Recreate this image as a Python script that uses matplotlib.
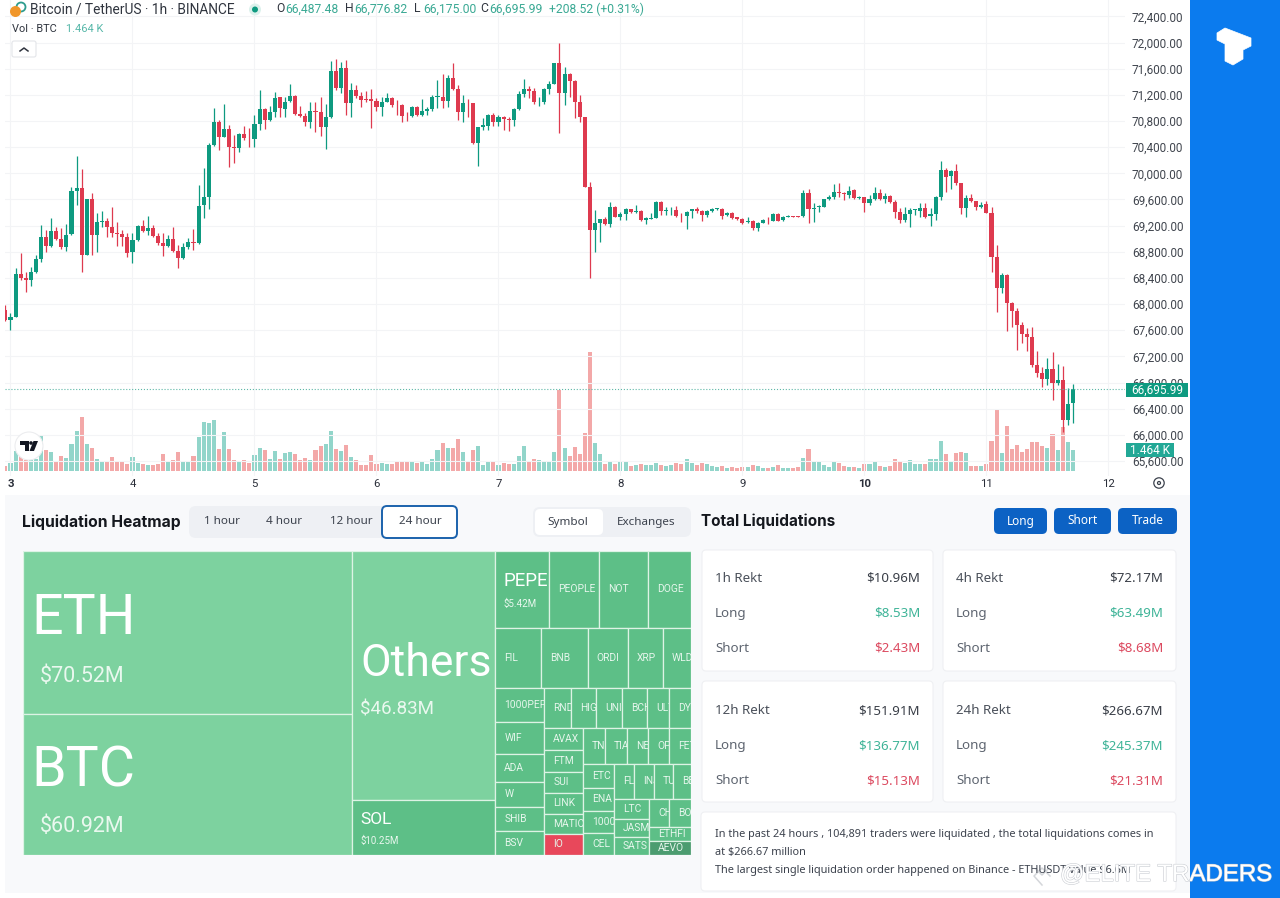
"""
BTC/USDT 1h candles with volume, and a liquidation heatmap panel below
"""
import numpy as np
import matplotlib
matplotlib.use('Agg')
import matplotlib.pyplot as plt
import matplotlib.patheffects as pe
from matplotlib.patches import Circle, FancyBboxPatch, Polygon, Rectangle

W, H_PX = 1280, 898

# hourly candles, first one is the last hour of the 2nd
opens = [67910, 67755, 67805, 68455, 68400, 68370, 68495, 68685, 69025, 68890,
         69125, 69000, 68880, 69065, 69735, 69775, 68750, 69600, 69055, 69250,
         69275, 69185, 69085, 69065, 69030, 68795, 68980, 69200, 69125, 69160,
         69045, 68940, 68890, 69000, 68815, 68700, 68875, 68945, 68930, 69515,
         69640, 70435, 70790, 70550, 70675, 70410, 70385, 70600, 70545, 70530,
         70755, 70980, 70815, 70940, 71165, 70990, 71105, 71180, 70910, 70875,
         70785, 70955, 70935, 70715, 70855, 71565, 71300, 71615, 71080, 71270,
         71185, 71135, 71130, 71105, 71010, 71095, 71155, 71050, 71040, 70885,
         70870, 71010, 70890, 70960, 70980, 71165, 71175, 71110, 71455, 71290,
         70940, 71080, 71070, 70460, 70705, 70725, 70890, 70785, 70865, 70825,
         70815, 70980, 71215, 71285, 71265, 71085, 71095, 71285, 71365, 71685,
         71225, 71520, 71420, 71095, 70855, 69795, 69135, 69235, 69295, 69225,
         69490, 69335, 69380, 69450, 69410, 69425, 69290, 69305, 69315, 69565,
         69430, 69435, 69440, 69355, 69345, 69430, 69455, 69425, 69370, 69430,
         69450, 69450, 69370, 69395, 69325, 69300, 69260, 69270, 69160, 69245,
         69305, 69275, 69385, 69285, 69335, 69350, 69345, 69345, 69695, 69455,
         69480, 69490, 69605, 69645, 69715, 69705, 69670, 69745, 69625, 69635,
         69540, 69605, 69705, 69605, 69655, 69565, 69415, 69285, 69375, 69435,
         69430, 69465, 69345, 69385, 69645, 70050, 69960, 70035, 69845, 69475,
         69620, 69575, 69480, 69530, 69400, 68715, 68250, 68445, 68010, 67895,
         67675, 67550, 67495, 67070, 66950, 66860, 67000, 66790, 66835, 66225,
         66487.48]
closes = [67755, 67800, 68460, 68395, 68370, 68490, 68685, 69025, 68890, 69125,
          69000, 68880, 69060, 69735, 69770, 68750, 69600, 69055, 69250, 69270,
          69185, 69085, 69065, 69030, 68785, 68980, 69200, 69125, 69160, 69045,
          68940, 68890, 69000, 68815, 68700, 68875, 68945, 68930, 69505, 69635,
          70435, 70790, 70550, 70675, 70410, 70390, 70600, 70535, 70535, 70755,
          70980, 70815, 70945, 71155, 70995, 71095, 71180, 70910, 70875, 70780,
          70955, 70935, 70715, 70855, 71565, 71300, 71615, 71080, 71270, 71185,
          71120, 71120, 71105, 71010, 71095, 71155, 71040, 71040, 70880, 70875,
          71010, 70890, 70960, 70980, 71165, 71180, 71105, 71455, 71290, 70940,
          71080, 71070, 70460, 70705, 70735, 70890, 70785, 70865, 70825, 70815,
          70980, 71215, 71285, 71265, 71085, 71095, 71285, 71365, 71685, 71225,
          71520, 71420, 71095, 70855, 69795, 69135, 69245, 69295, 69225, 69490,
          69335, 69380, 69455, 69410, 69425, 69285, 69320, 69320, 69565, 69430,
          69445, 69445, 69345, 69345, 69415, 69450, 69420, 69370, 69430, 69455,
          69465, 69355, 69395, 69315, 69300, 69245, 69270, 69160, 69245, 69285,
          69295, 69375, 69275, 69335, 69350, 69335, 69330, 69695, 69460, 69470,
          69500, 69605, 69645, 69720, 69705, 69690, 69735, 69630, 69635, 69550,
          69605, 69705, 69605, 69655, 69565, 69415, 69285, 69375, 69440, 69450,
          69465, 69335, 69385, 69645, 70050, 69950, 70035, 69845, 69475, 69620,
          69580, 69480, 69520, 69400, 68715, 68250, 68445, 68010, 67895, 67675,
          67550, 67500, 67070, 66950, 66860, 67000, 66795, 66835, 66225, 66465,
          66695.99]
highs = [67985, 67860, 68545, 68775, 68495, 68570, 68750, 69210, 69135, 69310,
         69185, 69160, 69225, 69795, 70270, 70060, 69600, 69705, 69390, 69430,
         69310, 69490, 69260, 69135, 69080, 69080, 69210, 69285, 69345, 69210,
         69080, 69080, 69055, 69185, 68905, 68930, 69005, 69145, 69820, 70075,
         70460, 70995, 70815, 71055, 70740, 70585, 70610, 70725, 70690, 70895,
         71275, 70995, 71030, 71250, 71175, 71175, 71365, 71200, 71030, 70920,
         71095, 71095, 71165, 71060, 71725, 71745, 71710, 71735, 71375, 71350,
         71250, 71265, 71285, 71150, 71175, 71225, 71175, 71120, 71060, 70945,
         71030, 71030, 71130, 71020, 71200, 71430, 71520, 71505, 71695, 71350,
         71200, 71130, 71075, 70715, 70840, 70905, 70930, 70890, 70875, 70865,
         70995, 71265, 71440, 71335, 71300, 71165, 71300, 71420, 71690, 71990,
         71630, 71530, 71430, 71200, 70865, 69870, 69440, 69300, 69335, 69565,
         69500, 69415, 69465, 69460, 69515, 69440, 69330, 69390, 69570, 69575,
         69480, 69480, 69500, 69400, 69425, 69460, 69480, 69440, 69440, 69465,
         69475, 69465, 69405, 69405, 69335, 69310, 69335, 69285, 69260, 69295,
         69335, 69390, 69400, 69345, 69360, 69355, 69355, 69745, 69755, 69540,
         69515, 69615, 69670, 69835, 69845, 69720, 69810, 69755, 69655, 69645,
         69670, 69785, 69755, 69695, 69670, 69590, 69465, 69490, 69465, 69460,
         69540, 69540, 69465, 69655, 70195, 70075, 70050, 70145, 69855, 69670,
         69685, 69580, 69565, 69580, 69480, 68905, 68480, 68460, 68025, 67945,
         67730, 67630, 67645, 67285, 67040, 67170, 67265, 67085, 67060, 66710,
         66776.82]
lows = [67745, 67600, 67795, 68370, 68190, 68275, 68480, 68650, 68800, 68880,
        68980, 68850, 68815, 69055, 69515, 68495, 68750, 68750, 68790, 69185,
        69020, 69020, 68890, 68890, 68725, 68625, 68970, 69110, 69055, 69030,
        68905, 68735, 68880, 68800, 68545, 68690, 68850, 68825, 68925, 69310,
        69455, 70425, 70355, 70550, 70090, 70155, 70330, 70510, 70410, 70410,
        70665, 70675, 70805, 70865, 70865, 70855, 71090, 70895, 70865, 70725,
        70690, 70635, 70575, 70370, 70840, 71275, 71225, 70895, 70865, 71150,
        71020, 71095, 70700, 70960, 70875, 71095, 71020, 70895, 70790, 70800,
        70855, 70875, 70875, 70895, 70960, 70995, 70995, 71010, 71275, 70815,
        70790, 70865, 70455, 70110, 70665, 70665, 70725, 70725, 70665, 70655,
        70725, 70970, 71165, 71150, 71060, 71030, 71060, 71215, 71360, 70620,
        71045, 71175, 70840, 70790, 69785, 68395, 68800, 68955, 69210, 69185,
        69325, 69285, 69285, 69390, 69400, 69275, 69225, 69295, 69310, 69360,
        69360, 69360, 69325, 69255, 69155, 69310, 69400, 69275, 69325, 69415,
        69440, 69300, 69355, 69305, 69285, 69225, 69235, 69135, 69115, 69235,
        69225, 69265, 69265, 69275, 69330, 69330, 69325, 69335, 69235, 69260,
        69415, 69480, 69590, 69600, 69645, 69590, 69620, 69610, 69600, 69415,
        69515, 69590, 69590, 69540, 69540, 69310, 69245, 69260, 69175, 69365,
        69335, 69310, 69195, 69285, 69590, 69720, 69755, 69820, 69380, 69325,
        69565, 69440, 69465, 69390, 68495, 67885, 68165, 67595, 67645, 67300,
        67400, 67285, 67040, 66890, 66725, 66760, 66540, 66760, 66050, 66150,
        66175]
# volume in thousand BTC
volumes = [0.31, 0.54, 1.37, 1.01, 0.78, 0.83, 0.83, 2.55, 1.49, 1.30,
           0.71, 1.06, 0.90, 1.91, 2.81, 3.84, 1.89, 1.63, 0.83, 0.71,
           0.71, 0.97, 0.59, 0.61, 0.50, 0.94, 0.54, 0.47, 0.42, 0.40,
           0.50, 1.20, 0.59, 0.78, 1.30, 0.68, 0.59, 1.01, 2.36, 3.44,
           3.37, 3.61, 1.53, 2.74, 1.53, 0.73, 0.59, 0.78, 0.54, 1.08,
           1.60, 1.44, 0.83, 1.42, 0.85, 1.25, 1.32, 1.16, 0.78, 0.90,
           0.78, 1.44, 1.72, 1.89, 2.81, 1.56, 1.42, 1.82, 0.97, 0.73,
           0.42, 0.42, 1.08, 0.50, 0.54, 0.50, 0.47, 0.59, 0.71, 0.64,
           0.64, 0.54, 0.64, 0.50, 0.83, 1.44, 1.96, 1.60, 1.60, 2.24,
           1.32, 0.61, 1.49, 1.72, 0.42, 0.68, 0.64, 0.40, 0.52, 0.50,
           0.50, 1.06, 1.72, 0.64, 0.85, 0.78, 0.64, 0.61, 1.30, 5.71,
           1.60, 1.01, 1.70, 1.16, 2.67, 8.40, 1.96, 1.16, 0.50, 0.64,
           0.50, 0.59, 0.59, 0.33, 0.40, 0.45, 0.40, 0.42, 0.57, 0.42,
           0.35, 0.40, 0.57, 0.50, 0.80, 0.57, 0.38, 0.57, 0.45, 0.31,
           0.28, 0.33, 0.19, 0.26, 0.21, 0.28, 0.28, 0.38, 0.33, 0.21,
           0.21, 0.28, 0.38, 0.19, 0.17, 0.21, 0.24, 0.87, 1.53, 0.64,
           0.71, 0.40, 0.28, 0.71, 0.57, 0.33, 0.24, 0.28, 0.17, 0.45,
           0.47, 0.71, 0.35, 0.28, 0.33, 0.80, 0.71, 0.57, 0.75, 0.47,
           0.47, 0.47, 0.83, 0.80, 2.10, 1.16, 0.64, 1.23, 1.34, 1.27,
           0.35, 0.35, 0.35, 0.45, 2.12, 4.29, 1.27, 3.16, 1.51, 1.82,
           1.34, 1.51, 2.05, 2.03, 1.77, 1.63, 2.57, 1.46, 3.07, 2.05,
           1.464]
price_ticks = list(range(65600, 72401, 400))
day_ticks = [3, 4, 5, 6, 7, 8, 9, 10, 11, 12]
bold_days = [3, 10]
last_price = 66695.99

# heatmap, $M. the big ones are printed, small ones read from their areas
major_names = ['ETH', 'BTC', 'Others', 'SOL']
major_values = [70.52, 60.92, 46.83, 10.25]
row_a_names = ['PEPE', 'PEOPLE', 'NOT', 'DOGE']
row_a_values = [5.42, 5.15, 4.95, 4.34]
row_b_names = ['FIL', 'BNB', 'ORDI', 'XRP', 'WLD']
row_b_values = [3.62, 3.62, 3.15, 2.75, 2.20]
col_c_names = ['1000PEPE', 'WIF', 'ADA', 'W', 'SHIB', 'BSV']
col_c_values = [2.18, 2.05, 1.80, 1.61, 1.54, 1.54]
row_d_names = ['RNDR', 'HIGH', 'UNI', 'BCH', 'ULTI', 'DYDX']
row_d_values = [1.41, 1.31, 1.36, 1.31, 1.15, 1.15]
col_e_names = ['AVAX', 'FTM', 'SUI', 'LINK', 'MATIC', 'IO']
col_e_values = [1.12, 1.12, 1.07, 1.07, 1.02, 1.07]
row_f_names = ['TNSR', 'TIA', 'NEAR', 'OP', 'FET']
row_f_values = [1.04, 1.04, 0.99, 0.99, 1.04]
col_g_names = ['ETC', 'ENA', '1000SATS', 'CEL']
col_g_values = [0.97, 0.93, 0.89, 0.89]
row_h_names = ['FLOKI', 'INJ', 'TURBO', 'BEAM']
row_h_values = [0.92, 0.92, 0.87, 0.83]
col_i_names = ['LTC', 'JASMY', 'SATS']
col_i_values = [0.92, 0.83, 0.83]
row_j_names = ['CHZ', 'BOME']
row_j_values = [0.73, 0.81]
col_k_names = ['ETHFI', 'AEVO']
col_k_values = [0.77, 0.77]

card_titles = ['1h Rekt', '4h Rekt', '12h Rekt', '24h Rekt']
card_totals = ['$10.96M', '$72.17M', '$151.91M', '$266.67M']
card_longs = ['$8.53M', '$63.49M', '$136.77M', '$245.37M']
card_shorts = ['$2.43M', '$8.68M', '$15.13M', '$21.31M']

UP, DOWN = '#0E9A80', '#DE3A4F'
UP_VOL, DOWN_VOL = '#92D5CA', '#F3A8A8'
MAP_LIGHT, MAP_MID = '#7DD29F', '#5DBF87'
TEXT_DARK, TEXT_GREY = '#3C424D', '#5E6570'
SANS = 'Roboto'
UI = 'Noto Sans'

plt.rcParams['font.family'] = SANS
fig = plt.figure(figsize=(W / 100, H_PX / 100), dpi=100)


def px_axes(x0, y0, x1, y1, zorder):
    return fig.add_axes([x0 / W, 1 - y1 / H_PX, (x1 - x0) / W, (y1 - y0) / H_PX],
                        zorder=zorder)


def page_axes(zorder):
    ax = px_axes(0, 0, W, H_PX, zorder)
    ax.set_xlim(0, W)
    ax.set_ylim(H_PX, 0)
    ax.axis('off')
    return ax


def rbox(ax, x0, y0, x1, y1, r, fc, ec='none', lw=0.0, **kw):
    ax.add_patch(FancyBboxPatch((x0, y0), x1 - x0, y1 - y0, linewidth=lw,
                                boxstyle=f'round,pad=0,rounding_size={r}',
                                facecolor=fc, edgecolor=ec, **kw))


def label(ax, x, y, s, size, color=TEXT_DARK, ha='left', weight='normal', family=UI, **kw):
    return ax.text(x, y, s, fontsize=size, color=color, ha=ha, va='center',
                   fontweight=weight, family=family, **kw)


ax_bg = page_axes(0)
ax_bg.add_patch(Rectangle((5, 495), 1185, 398, fc='#F8F9FB', ec='none'))

# ---- candles and volume
x_hour = np.arange(-1, len(opens) - 1)
o, h, l, c = map(np.array, (opens, highs, lows, closes))
rising = c >= o

ax_price = px_axes(5, 0, 1125, 476, 2)
ax_vol = ax_price.twinx()
ax_vol.set_zorder(1)
ax_vol.set_facecolor('white')
ax_price.patch.set_visible(False)

ax_vol.bar(x_hour, volumes, width=0.8, color=np.where(rising, UP_VOL, DOWN_VOL))
ax_vol.set_ylim(-0.376, 33.38)
ax_vol.set_yticks([])

ax_price.vlines(x_hour, l, h, colors=np.where(rising, UP, DOWN), linewidth=0.9)
ax_price.bar(x_hour, np.abs(c - o), bottom=np.minimum(o, c), width=0.8,
             color=np.where(rising, UP, DOWN))
ax_price.axhline(last_price, color='#5FB8A8', linestyle=':', linewidth=0.8)

ax_price.set_xlim(-1.082, 219.26)
ax_price.set_ylim(65370, 72652)
ax_price.yaxis.tick_right()
ax_price.set_yticks(price_ticks)
ax_price.set_yticklabels([f'{v:,.2f}' for v in price_ticks])
ax_price.set_xticks([(d - 3) * 24 for d in day_ticks])
ax_price.set_xticklabels([str(d) for d in day_ticks])
ax_price.tick_params(axis='y', length=0, pad=5, labelsize=8.5, labelcolor='#41464F')
ax_price.tick_params(axis='x', length=0, pad=2, labelsize=8.2, labelcolor='#2A2E39')
for tick, d in zip(ax_price.get_xticklabels(), day_ticks):
    if d in bold_days:
        tick.set_fontweight('bold')
ax_price.grid(True, color='#F3F4F6', linewidth=0.8)
ax_price.set_axisbelow(True)
for ax in (ax_price, ax_vol):
    for s in ax.spines.values():
        s.set_visible(False)

# ---- treemap, nested slices so that area follows the values
map_values = dict(zip(major_names + row_a_names + row_b_names + col_c_names + row_d_names
                      + col_e_names + row_f_names + col_g_names + row_h_names + col_i_names
                      + row_j_names + col_k_names,
                      major_values + row_a_values + row_b_values + col_c_values + row_d_values
                      + col_e_values + row_f_values + col_g_values + row_h_values + col_i_values
                      + row_j_values + col_k_values))


def across(names):
    return ('h', list(names))


def down(names):
    return ('v', list(names))


map_tree = across([
    down(['ETH', 'BTC']),
    down(['Others', 'SOL']),
    down([across(row_a_names), across(row_b_names), across([
        down(col_c_names),
        down([across(row_d_names), across([
            down(col_e_names),
            down([across(row_f_names), across([
                down(col_g_names),
                down([across(row_h_names), across([
                    down(col_i_names),
                    down([across(row_j_names), down(col_k_names)]),
                ])]),
            ])]),
        ])]),
    ])]),
])


def node_total(node):
    if isinstance(node, str):
        return map_values[node]
    return sum(node_total(n) for n in node[1])


def layout(node, x0, y0, x1, y1, out):
    if isinstance(node, str):
        out[node] = (x0, y0, x1, y1)
        return
    total = node_total(node)
    pos = x0 if node[0] == 'h' else y0
    for child in node[1]:
        share = node_total(child) / total
        if node[0] == 'h':
            step = (x1 - x0) * share
            layout(child, pos, y0, pos + step, y1, out)
        else:
            step = (y1 - y0) * share
            layout(child, x0, pos, x1, pos + step, out)
        pos += step


MX0, MY0, MX1, MY1 = 22.5, 550.5, 691, 855
ax_map = px_axes(MX0, MY0, MX1, MY1, 3)
ax_map.set_xlim(MX0, MX1)
ax_map.set_ylim(MY1, MY0)
ax_map.axis('off')

cells = {}
layout(map_tree, MX0, MY0, MX1, MY1, cells)
cell_colors = {'ETH': MAP_LIGHT, 'BTC': MAP_LIGHT, 'Others': MAP_LIGHT,
               'IO': '#E8485B', 'AEVO': '#4C9C70'}
# label x offset, label y, label size, value x offset, value y, value size
big_labels = {'ETH': (9, 618, 40, 17, 677, 15.5), 'BTC': (9, 771, 40, 17, 826, 15.5),
              'Others': (8, 664, 32, 8, 709, 13.5), 'SOL': (8, 820, 12.5, 8, 841, 7),
              'PEPE': (8, 581, 13.5, 8, 604, 7)}
for name, (x0, y0, x1, y1) in cells.items():
    rect = Rectangle((x0, y0), x1 - x0, y1 - y0, facecolor=cell_colors.get(name, MAP_MID),
                     edgecolor='#DDF3E5', linewidth=0.9)
    ax_map.add_patch(rect)
    if name in big_labels:
        dx, y_name, size, dx_val, y_val, size_val = big_labels[name]
        t = label(ax_map, x0 + dx, y_name, name, size, 'white', family=SANS, clip_on=True)
        t.set_clip_path(rect)
        label(ax_map, x0 + dx_val, y_val, f'${map_values[name]:.2f}M', size_val, '#EAF8EF', family=SANS)
    else:
        t = label(ax_map, x0 + 9, (y0 + y1) / 2, name, 7.4, '#E6F6EC', family=SANS, clip_on=True)
        t.set_clip_path(rect)

# ---- everything that sits on top of the chart
ax_top = page_axes(4)

ax_top.add_patch(Rectangle((1190, 0), 90, H_PX, fc='#0B7BEE', ec='none'))
ax_top.add_patch(Polygon([(1217, 33), (1225, 28), (1251, 38), (1251, 46), (1243, 50),
                          (1243, 59), (1233, 65), (1225, 61), (1225, 44), (1217, 40)],
                         fc='white', ec='white', lw=0.5))

# header legend
ax_top.add_patch(Circle((21, 7), 4.5, fc='none', ec='#2E9C8E', lw=1.3))
ax_top.add_patch(Circle((15.5, 11.5), 5.5, fc='#F0962A', ec='none'))
label(ax_top, 30, 9, 'Bitcoin / TetherUS · 1h · BINANCE', 9.9, '#30353F', family=SANS)
ax_top.add_patch(Circle((255, 9.5), 6, fc='#DCF1EC', ec='none'))
ax_top.add_patch(Circle((255, 9.5), 3, fc=UP, ec='none'))
ohlc_letters = ['O', 'H', 'L', 'C']
ohlc_text = ['66,487.48', '66,776.82', '66,175.00', '66,695.99']
ohlc_x = [276, 345, 414, 480]
for letter, val, xp in zip(ohlc_letters, ohlc_text, ohlc_x):
    label(ax_top, xp, 9, letter, 8.7, '#30353F', family=SANS)
    label(ax_top, xp + 9.5, 9, val, 8.7, '#3AA994', family=SANS)
label(ax_top, 549, 9, '+208.52 (+0.31%)', 8.7, '#3AA994', family=SANS)
label(ax_top, 12, 29, 'Vol · BTC', 7.9, '#30353F', family=SANS)
label(ax_top, 66, 29, '1.464 K', 7.9, '#55B7A8', family=SANS)
rbox(ax_top, 12, 41, 36, 57, 2, 'white', '#E3E5E9', 0.8)
ax_top.plot([20, 24, 28], [51, 48, 51], color='#30353F', lw=1.1)

# TradingView badge
ax_top.add_patch(Circle((29, 446), 14, fc='white', ec='#ECEDEF', lw=0.8))
ax_top.add_patch(Polygon([(20, 441), (28.5, 441), (28.5, 451), (24.5, 451), (24.5, 444.5), (20, 444.5)],
                         fc='#131722', ec='none'))
ax_top.add_patch(Circle((31, 443), 1.8, fc='#131722', ec='none'))
ax_top.add_patch(Polygon([(33.5, 441), (38, 441), (34, 451), (29.5, 451)], fc='#131722', ec='none'))

# price scale tags and the settings ring
ax_top.add_patch(Rectangle((1126, 383), 62, 14, fc='#0E9A80', ec='none'))
label(ax_top, 1157, 390, '66,695.99', 8.5, 'white', ha='center', family=SANS)
ax_top.add_patch(Rectangle((1126, 443), 48, 14, fc='#22A896', ec='none'))
label(ax_top, 1150, 450, '1.464 K', 8.5, 'white', ha='center', family=SANS)
ax_top.add_patch(Circle((1159, 483), 5.2, fc='none', ec='#3C424D', lw=0.9))
ax_top.add_patch(Circle((1159, 483), 1.5, fc='none', ec='#3C424D', lw=0.9))

# panel headers and tabs
label(ax_top, 22, 522, 'Liquidation Heatmap', 11.3, '#15181E', weight='bold', family='Inter')
rbox(ax_top, 189, 506, 457, 538, 7, '#EEF0F4')
rbox(ax_top, 382, 506, 457, 538, 5, 'white', '#1B62AC', 1.4)
for txt, xp in zip(['1 hour', '4 hour', '12 hour', '24 hour'], [222, 284, 351, 420]):
    label(ax_top, xp, 522, txt, 8.4, ha='center')
rbox(ax_top, 533, 507, 691, 537, 7, '#EEF0F4')
rbox(ax_top, 535, 509, 603, 535, 5, 'white')
label(ax_top, 568, 522, 'Symbol', 8.4, ha='center')
label(ax_top, 646, 522, 'Exchanges', 8.4, ha='center')

label(ax_top, 701, 521, 'Total Liquidations', 11.0, '#15181E', weight='bold', family='Inter')
for txt, x0, x1 in [('Long', 994, 1047), ('Short', 1054, 1111), ('Trade', 1118, 1177)]:
    rbox(ax_top, x0, 508, x1, 534, 5, '#0C62C4')
    label(ax_top, (x0 + x1) / 2, 521, txt, 8.5, 'white', ha='center', weight='bold')

# the four rekt cards
card_boxes = [(702, 550, 933, 671), (943, 550, 1176, 671), (702, 681, 933, 802), (943, 681, 1176, 802)]
for box, title, total, longs, shorts in zip(card_boxes, card_titles, card_totals, card_longs, card_shorts):
    x0, y0, x1, y1 = box
    dy = 0 if y0 < 600 else 2
    rbox(ax_top, x0, y0, x1, y1, 4, 'white', '#EFF0F3', 0.8)
    label(ax_top, x0 + 13, y0 + 28 + dy, title, 9.6, '#4A505A', weight=600)
    label(ax_top, x1 - 13, y0 + 28 + dy, total, 9.6, '#3A3F48', ha='right', weight=600)
    label(ax_top, x0 + 13, y0 + 63 + dy, 'Long', 9.6, TEXT_GREY)
    label(ax_top, x1 - 13, y0 + 63 + dy, longs, 9.6, '#3FB498', ha='right')
    label(ax_top, x0 + 13, y0 + 98 + dy, 'Short', 9.6, TEXT_GREY)
    label(ax_top, x1 - 13, y0 + 98 + dy, shorts, 9.6, '#DC4A60', ha='right')

rbox(ax_top, 701, 812, 1176, 891, 4, 'white', '#EFF0F3', 0.8)
label(ax_top, 715, 835, 'In the past 24 hours , 104,891 traders were liquidated , the total liquidations comes in', 7.85)
label(ax_top, 715, 852, 'at $266.67 million', 7.85)
label(ax_top, 715, 870, 'The largest single liquidation order happened on Binance - ETHUSDT value $6.6M', 7.85)

# watermark
ax_top.plot([1042, 1034, 1042, 1050], [885, 876, 868, 876], color='#D4D6DA', lw=1.1)
ax_top.plot([1036, 1042, 1048], [869, 875, 869], color='#D4D6DA', lw=1.1)
label(ax_top, 1060, 875, '@ELITE TRADERS', 17.3, 'white', family='Liberation Sans',
      path_effects=[pe.withStroke(linewidth=0.8, foreground='#C9CCD2')])

fig.savefig('out.png', dpi=100)
